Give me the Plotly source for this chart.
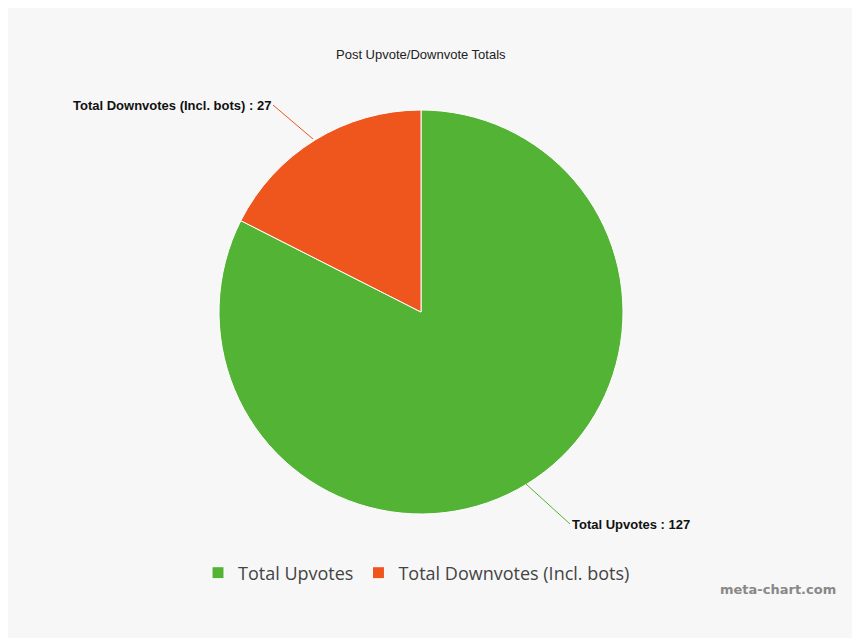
import plotly.graph_objects as go

labels = ["Total Upvotes", "Total Downvotes (Incl. bots)"]
values = [127, 27]
colors = ["#52b335", "#ee561d"]

W, H = 860, 638

fig = go.Figure(go.Pie(
    labels=labels, values=values, sort=False, direction="clockwise", rotation=0,
    marker=dict(colors=colors, line=dict(color="#ffffff", width=1)),
    textinfo="none", hoverinfo="label+value",
    domain=dict(x=[211 / W, 615 / W], y=[1 - 506 / H, 1 - 102 / H]),
))

# outside labels with leader lines
fig.add_annotation(x=305 / W, y=1 - 131 / H, xref="paper", yref="paper",
                   text=f"<b>{labels[1]} : {values[1]}</b>", showarrow=True, arrowhead=0,
                   arrowcolor=colors[1], arrowwidth=1, ax=-40, ay=-34,
                   xanchor="right", font=dict(size=13, color="#111"))
fig.add_annotation(x=518 / W, y=1 - 476 / H, xref="paper", yref="paper",
                   text=f"<b>{labels[0]} : {values[0]}</b>", showarrow=True, arrowhead=0,
                   arrowcolor=colors[0], arrowwidth=1, ax=44, ay=40,
                   xanchor="left", font=dict(size=13, color="#111"))
fig.add_annotation(x=830 / W, y=1 - 591 / H, xref="paper", yref="paper", showarrow=False,
                   text="<b>meta-chart.com</b>", xanchor="right",
                   font=dict(size=13, color="#888", family="DejaVu Sans"))

fig.update_layout(
    width=W, height=H, paper_bgcolor="#f7f7f7", plot_bgcolor="#f7f7f7",
    margin=dict(l=0, r=0, t=0, b=0),
    font=dict(family="Liberation Sans, Arial", color="#222"),
    title=dict(text="Post Upvote/Downvote Totals", x=0.48, xanchor="center",
               y=1 - 46 / H, yanchor="middle", font=dict(size=13, color="#222")),
    legend=dict(orientation="h", x=0.475, xanchor="center", y=1 - 565 / H, yanchor="middle",
                font=dict(size=18, color="#444", family="Open Sans"), itemwidth=30),
)

fig.write_html("out.html")
